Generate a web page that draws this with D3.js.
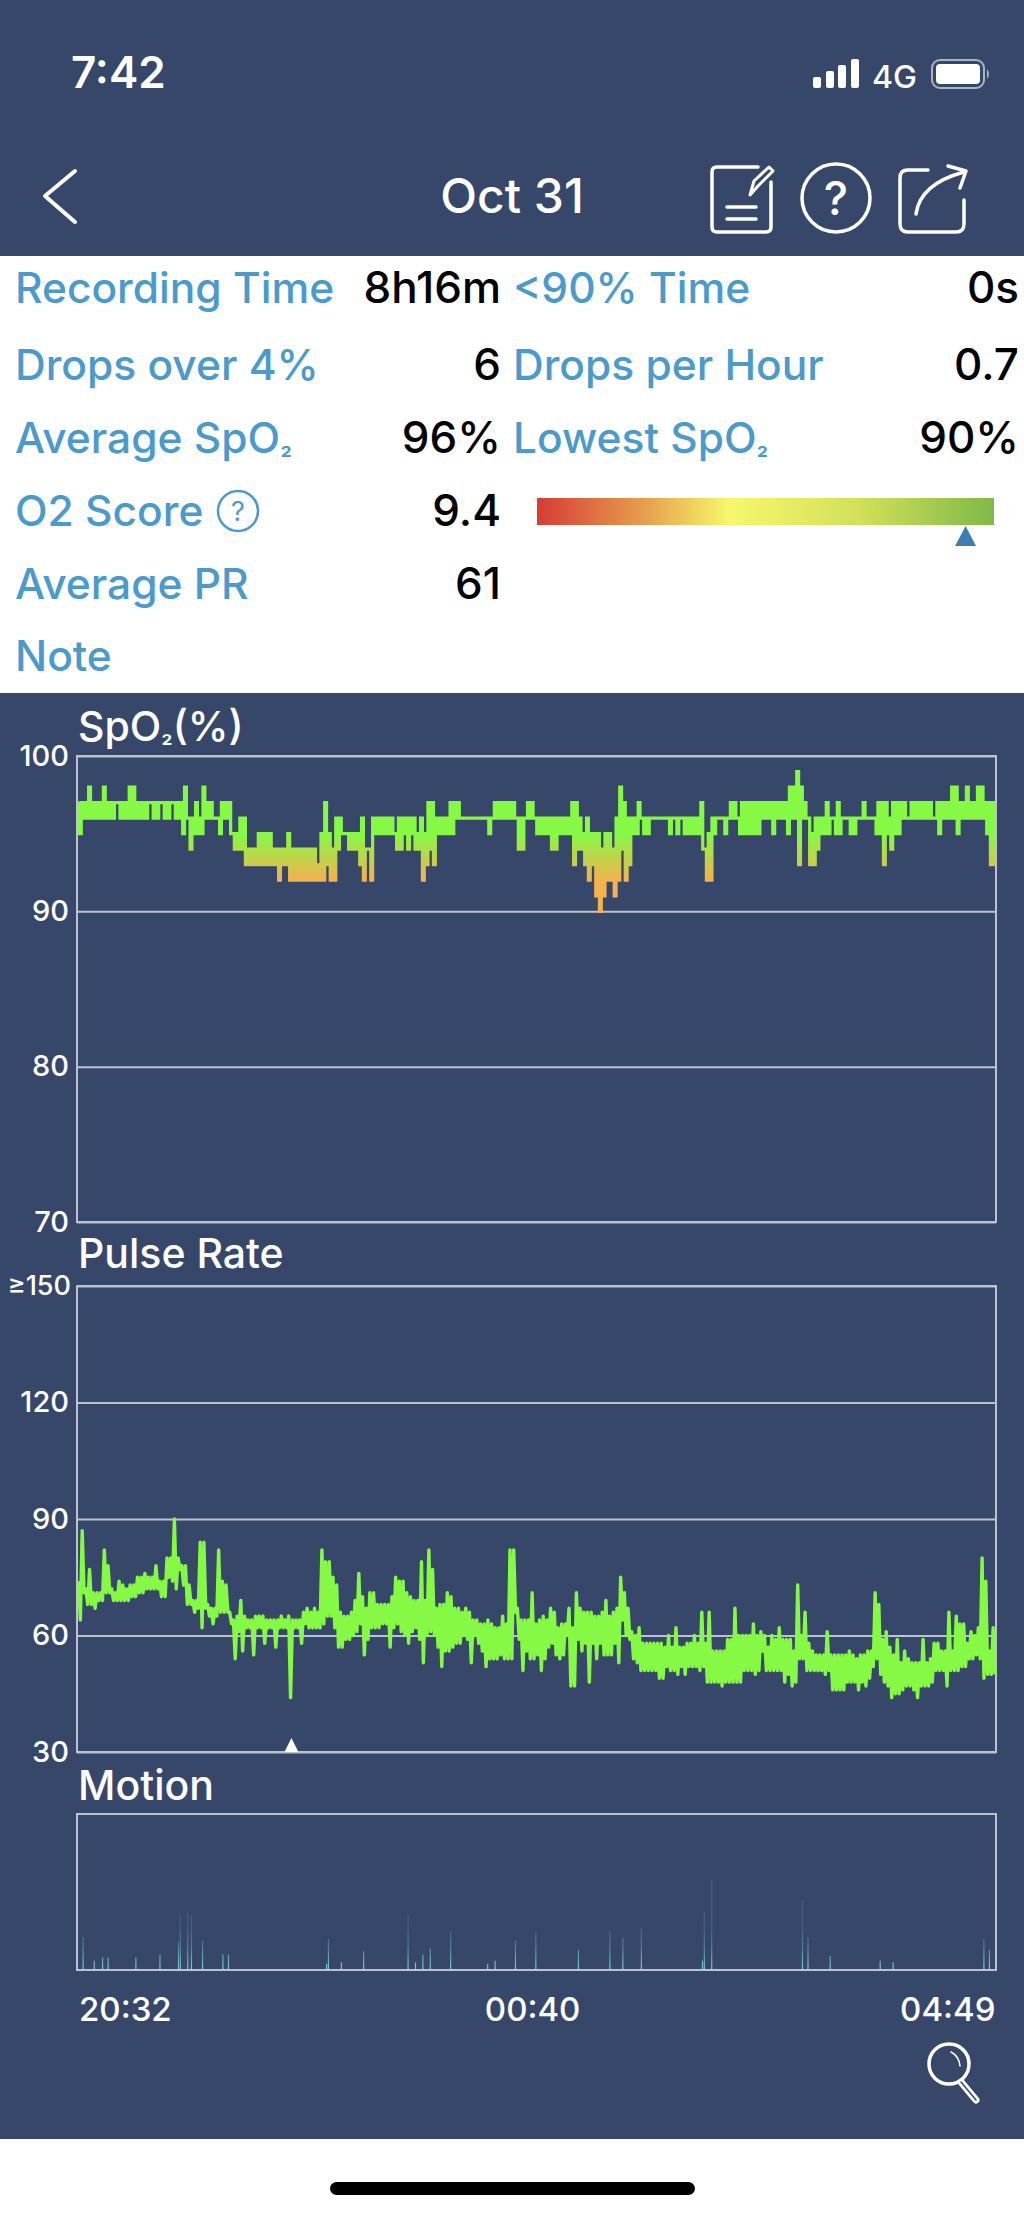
<!DOCTYPE html>
<html><head><meta charset="utf-8">
<script src="https://cdn.jsdelivr.net/npm/d3@7/dist/d3.min.js"></script>
<style>html,body{margin:0;padding:0;background:#fff}svg{display:block}text{font-family:Inter,Roboto,sans-serif}</style>
</head><body><svg id="c" width="1024" height="2217"></svg>
<script>
// one [high, low] pair for every two minutes of the recording
const spo2Values = [
97,95,97,96,97,96,98,96,97,96,97,96,97,96,98,96,97,96,97,96,
97,97,97,96,97,96,97,96,98,96,98,96,97,96,97,96,97,96,97,97,
97,96,97,96,97,97,97,96,97,96,97,97,97,96,97,96,97,95,98,96,
96,94,96,95,97,95,96,95,98,96,97,96,97,96,96,96,96,95,97,96,
97,96,97,95,95,94,95,94,96,94,96,93,94,93,94,93,94,93,95,93,
95,93,95,93,95,93,94,93,94,92,94,93,94,93,95,92,94,92,94,92,
94,92,94,92,94,92,94,92,94,92,93,92,95,92,97,93,95,92,94,92,
96,94,96,95,95,95,95,94,95,94,95,94,95,93,96,92,94,94,94,92,
96,95,96,95,96,95,96,95,96,95,96,95,95,94,96,94,96,95,96,94,
96,95,96,94,95,94,96,92,95,93,97,94,97,93,96,95,96,95,96,95,
96,95,97,95,97,96,97,96,96,96,96,96,96,96,96,96,96,96,96,96,
96,96,96,95,96,96,97,96,97,96,97,96,97,96,97,96,
97,96,96,94,96,94,96,96,97,96,97,96,96,95,96,95,96,95,96,95,
96,94,96,94,96,95,96,95,96,95,96,95,97,93,97,94,96,94,95,93,
96,92,95,93,95,91,95,90,94,91,95,92,95,92,94,91,96,92,98,94,
97,92,96,93,96,95,96,95,97,96,96,95,96,95,96,96,96,96,96,96,
96,96,96,96,96,95,96,96,96,95,96,96,96,95,96,95,96,95,96,95,
96,95,97,94,94,92,95,92,96,95,96,96,96,96,96,95,96,96,97,96,
97,96,96,95,97,95,97,95,97,95,97,95,97,95,97,96,97,96,97,96,
97,95,97,96,97,96,97,96,97,95,98,96,98,96,99,93,98,96,97,96,
96,93,95,93,96,94,96,95,96,95,97,95,96,96,96,95,97,95,96,96,
96,96,96,95,96,95,96,96,96,96,97,96,96,96,96,96,96,95,97,95,
97,93,97,95,96,94,97,95,97,95,97,96,97,96,96,96,97,96,97,96,
97,96,97,96,97,96,97,96,96,96,97,95,97,96,97,96,97,96,98,96,
98,95,97,96,97,96,98,96,97,96,97,96,98,96,98,96,97,95,97,93,97,93
];
const pulseValues = [
74,64,87,71,72,68,77,68,71,67,71,69,71,69,82,71,78,71,72,69,
71,69,74,69,73,69,72,69,73,70,73,70,75,71,75,71,76,72,75,72,
75,72,78,72,74,70,74,70,80,75,80,74,90,72,80,77,78,73,78,68,
73,68,69,66,69,67,84,62,84,67,68,65,67,63,67,65,82,66,74,66,
73,66,66,63,64,54,65,61,69,56,65,62,64,62,64,55,65,62,65,62,
65,58,64,62,64,62,64,57,64,62,65,62,64,62,65,44,64,62,64,62,
64,58,66,63,67,62,66,62,67,62,66,62,82,63,79,65,79,65,75,62,
73,57,66,57,65,59,65,59,66,60,69,61,76,63,70,55,67,59,71,62,
71,62,68,62,68,63,68,63,68,57,70,62,75,63,74,61,74,60,71,58,
70,61,69,62,69,59,79,53,69,60,82,61,77,60,67,57,68,52,68,56,
71,56,70,57,67,58,67,58,66,60,67,59,66,53,64,60,64,58,63,56,
63,52,64,54,63,54,62,54,62,55,65,54,63,54,82,54,
82,66,67,59,64,51,64,56,64,54,71,54,63,55,64,51,65,54,64,57,
67,58,66,55,62,54,63,55,63,60,67,47,62,47,71,59,67,56,66,58,
66,48,66,58,65,54,65,58,66,55,69,55,65,55,66,58,67,53,75,64,
71,60,67,59,61,54,60,53,62,51,58,51,58,51,58,51,58,51,58,49,
58,49,57,52,60,51,57,51,62,50,57,52,57,50,58,52,58,52,60,52,
58,51,66,52,58,48,66,48,56,48,56,48,56,47,56,48,59,48,59,48,
67,48,60,48,60,51,60,51,60,51,63,50,60,51,61,56,60,51,57,51,
60,51,59,51,62,51,59,48,59,50,59,47,56,48,73,54,60,54,66,51,
58,51,56,51,55,51,55,51,55,50,61,51,55,46,55,46,55,46,55,46,
55,48,56,48,55,48,54,46,55,48,55,47,56,49,56,52,71,54,68,50,
59,48,61,47,57,44,55,45,59,45,53,46,56,47,54,47,53,46,53,44,
53,47,59,47,53,47,54,48,58,51,58,51,56,51,56,47,66,51,56,51,
65,51,63,52,63,52,58,54,61,54,60,55,62,54,80,49,74,50,56,50,62,50
];
const motionMinutes = [2.5,8.5,13,16,31,44,54,55,59,61,67,78,81,134,135,142,154,178,182,186,190,201,221,225,236,247,270,287,294,304,337,338,342,391,394,406,433,440,489,492];
const motionValues = [21,6,8,8,8,10,18,35,37,35,19,10,10,4,20,5,12,36,5,10,14,25,4,6,19,24,13,25,21,27,6,37,58,45,21,9,6,5,20,13];
const recordingMinutes = 495;
const spo2Ticks = [100,90,80,70];
const pulseTicks = [150,120,90,60,30];
const pulseTickLabels = ["≥150","120","90","60","30"];
const timeTicks = [0,245,495];
const timeLabels = ["20:32","00:40","04:49"];
const lowestPulseMinute = 115;
const statRows = [
 ["Recording Time","8h16m","<90% Time","0s"],
 ["Drops over 4%","6","Drops per Hour","0.7"],
 ["Average SpO₂","96%","Lowest SpO₂","90%"],
 ["O2 Score","9.4","",""],
 ["Average PR","61","",""],
 ["Note","","",""]];
const scoreStops = [["0%","#d63b36"],["24%","#e6a14e"],["42%","#f6f76c"],["70%","#d3e05a"],["100%","#7fb947"]];
const scoreValue = 9.4;

const NAVY="#37476a", BLUE="#4b9acb", GREEN="#86f945", GRID="#bcc3cf", FONT="Inter,Roboto,sans-serif";
const svg=d3.select("#c");
const rect=(x,y,w,h,f)=>svg.append("rect").attr("x",x).attr("y",y).attr("width",w).attr("height",h).attr("fill",f);
const txt=(x,y,s,size,fill,weight,anchor)=>{
  const t=svg.append("text").attr("x",x).attr("y",y).attr("font-size",size).attr("fill",fill).attr("font-weight",weight||400).attr("text-anchor",anchor||"start");
  s.split(/(₂)/).forEach(p=>{ if(!p) return; const sp=t.append("tspan").text(p); if(p==="₂") sp.attr("font-size",size*0.62); });
  return t;
};
const defs=svg.append("defs");
rect(0,0,1024,2217,"#fff");
rect(0,0,1024,256,NAVY);
rect(0,693,1024,1446,NAVY);

// status bar
txt(71,88,"7:42",44,"#fff",600);
[[813,11],[826,17],[838,23],[851,29]].forEach(d=>svg.append("rect").attr("x",d[0]).attr("y",88-d[1]).attr("width",8).attr("height",d[1]).attr("rx",2).attr("fill","#fff"));
txt(872,88,"4G",31,"#fff",500).attr("textLength",45).attr("lengthAdjust","spacingAndGlyphs");
svg.append("rect").attr("x",932).attr("y",60).attr("width",52).attr("height",28).attr("rx",8).attr("fill","none").attr("stroke","#aab3c4").attr("stroke-width",2);
svg.append("rect").attr("x",936).attr("y",64).attr("width",44).attr("height",20).attr("rx",4).attr("fill","#fff");
svg.append("path").attr("d","M987,69q4,5,0,10z").attr("fill","#aab3c4");

// nav bar
const strokeP=(d,w,c)=>svg.append("path").attr("d",d).attr("fill","none").attr("stroke",c||"#fff").attr("stroke-width",w).attr("stroke-linecap","round").attr("stroke-linejoin","round");
strokeP("M75,171L45,196L75,222",4);
txt(512,213,"Oct 31",48,"#fff",500,"middle");
strokeP("M758,167H717Q712,167,712,172V227Q712,232,717,232H766Q771,232,771,227V182",3.5);
strokeP("M727,207H756M727,219H756",3.5);
strokeP("M750,195L754,181L769,167L773,171L758,186Z",3);
svg.append("ellipse").attr("cx",836).attr("cy",198).attr("rx",34).attr("ry",34).attr("fill","none").attr("stroke","#fff").attr("stroke-width",3.5);
txt(836,215,"?",46,"#fff",500,"middle");
strokeP("M928,170H908Q900,170,900,178V224Q900,232,908,232H956Q964,232,964,224V200",3.5);
strokeP("M916,214Q920,184,964,172M948,166L966,171L960,188",3.5);

// stats
const rowY=[303,380,453,526,599,671];
statRows.forEach((r,i)=>{
  txt(15,rowY[i],r[0],42.5,BLUE,500);
  if(r[1]) txt(501,rowY[i],r[1],44,"#000",500,"end");
  if(r[2]) txt(513,rowY[i],r[2],42.5,BLUE,500);
  if(r[3]) txt(1019,rowY[i],r[3],44,"#000",500,"end");
});
svg.append("circle").attr("cx",238).attr("cy",511).attr("r",20).attr("fill","none").attr("stroke",BLUE).attr("stroke-width",2.5);
txt(238,521,"?",27,BLUE,400,"middle");
const sg=defs.append("linearGradient").attr("id","score");
sg.selectAll("stop").data(scoreStops).join("stop").attr("offset",d=>d[0]).attr("stop-color",d=>d[1]);
const scoreX=d3.scaleLinear().domain([0,10]).range([537,994]);
rect(537,498,457,27,"url(#score)");
const sx=scoreX(scoreValue)-1;
svg.append("path").attr("d",`M${sx},526L${sx+10.5},546H${sx-10.5}Z`).attr("fill","#3e7db3");

// scales
const L=77,R=996;
const x=d3.scaleLinear().domain([0,recordingMinutes]).range([L+1.5,R-1]);
const xi=d3.scaleLinear().domain([0,spo2Values.length-1]).range([L+1.5,R-1]);
const xp=d3.scaleLinear().domain([0,pulseValues.length-1]).range([L+1.5,R-1]);
const yS=d3.scaleLinear().domain([70,100]).range([1222,756]);
const yP=d3.scaleLinear().domain([30,150]).range([1752,1286]);
const yM=d3.scaleLinear().domain([0,100]).range([1970,1814]);

function frame(y0,y1){svg.append("rect").attr("x",L).attr("y",y0).attr("width",R-L).attr("height",y1-y0).attr("fill","none").attr("stroke",GRID).attr("stroke-width",2);}
function yAxis(scale,ticks,labels){
  const g=svg.append("g").attr("transform",`translate(${L},0)`).call(d3.axisLeft(scale).tickValues(ticks).tickSize(-(R-L)).tickPadding(8).tickFormat((d,i)=>labels?labels[i]:d));
  g.select(".domain").remove();
  g.selectAll("line").attr("stroke",GRID).attr("stroke-width",2);
  g.selectAll("text").attr("fill","#fff").attr("font-size",29).attr("font-weight",500).attr("font-family",FONT);
  return g;
}
// SpO2
yAxis(yS,spo2Ticks); frame(756,1222);
txt(78,741,"SpO₂(%)",41,"#fff",500);
const gr=defs.append("linearGradient").attr("id","sp").attr("gradientUnits","userSpaceOnUse").attr("x1",0).attr("x2",0).attr("y1",yS(95)).attr("y2",yS(92));
gr.append("stop").attr("offset","0").attr("stop-color",GREEN);
gr.append("stop").attr("offset","1").attr("stop-color","#f3b14f");
svg.append("path").attr("d",d3.line().x((d,i)=>xi(i)).y(d=>yS(d)).curve(d3.curveStep)(spo2Values)).attr("fill","none").attr("stroke","url(#sp)").attr("stroke-width",3.2);

// Pulse
const pa=yAxis(yP,pulseTicks,pulseTickLabels); frame(1286,1752);
pa.selectAll("text").filter(d=>d===150).attr("font-size",27).attr("dx",2);
txt(78,1268,"Pulse Rate",41,"#fff",500);
svg.append("path").attr("d",d3.line().x((d,i)=>xp(i)).y(d=>yP(d)).curve(d3.curveLinear)(pulseValues)).attr("fill","none").attr("stroke",GREEN).attr("stroke-width",3.4).attr("stroke-linejoin","round");
const tx=x(lowestPulseMinute);
svg.append("path").attr("d",`M${tx},1738L${tx+7},1752H${tx-7}Z`).attr("fill","#fff");

// Motion
frame(1814,1970);
txt(78,1800,"Motion",41,"#fff",500);
const mg=defs.append("linearGradient").attr("id","mo").attr("gradientUnits","userSpaceOnUse").attr("x1",0).attr("x2",0).attr("y1",1970).attr("y2",1925);
mg.append("stop").attr("offset","0").attr("stop-color","#86e6ea").attr("stop-opacity",.85);
mg.append("stop").attr("offset","0.5").attr("stop-color","#86e6ea").attr("stop-opacity",.35);
mg.append("stop").attr("offset","1").attr("stop-color","#86e6ea").attr("stop-opacity",.14);
svg.selectAll(".m").data(motionMinutes).join("rect").attr("class","m")
 .attr("x",d=>x(d)-.6).attr("width",1.2).attr("y",(d,i)=>yM(motionValues[i])).attr("height",(d,i)=>yM(0)-yM(motionValues[i])).attr("fill","url(#mo)");

const xa=svg.append("g").attr("transform","translate(0,1970)").call(d3.axisBottom(x).tickValues(timeTicks).tickSize(0).tickPadding(28).tickFormat((d,i)=>timeLabels[i]));
xa.select(".domain").remove();
xa.selectAll("text").attr("fill","#fff").attr("font-size",33).attr("font-weight",500).attr("font-family",FONT)
  .attr("text-anchor",(d,i)=>["start","middle","end"][i]);

// magnifier
svg.append("circle").attr("cx",949).attr("cy",2064).attr("r",20).attr("fill","none").attr("stroke","#fff").attr("stroke-width",3.5);
strokeP("M961,2082L976,2100",7);
strokeP("M961,2082L976,2100",1.5,NAVY);
strokeP("M951,2052Q959,2056,960,2066",1.5);

// home bar
svg.append("rect").attr("x",330).attr("y",2182).attr("width",365).attr("height",13).attr("rx",6.5).attr("fill","#000");
</script></body></html>
